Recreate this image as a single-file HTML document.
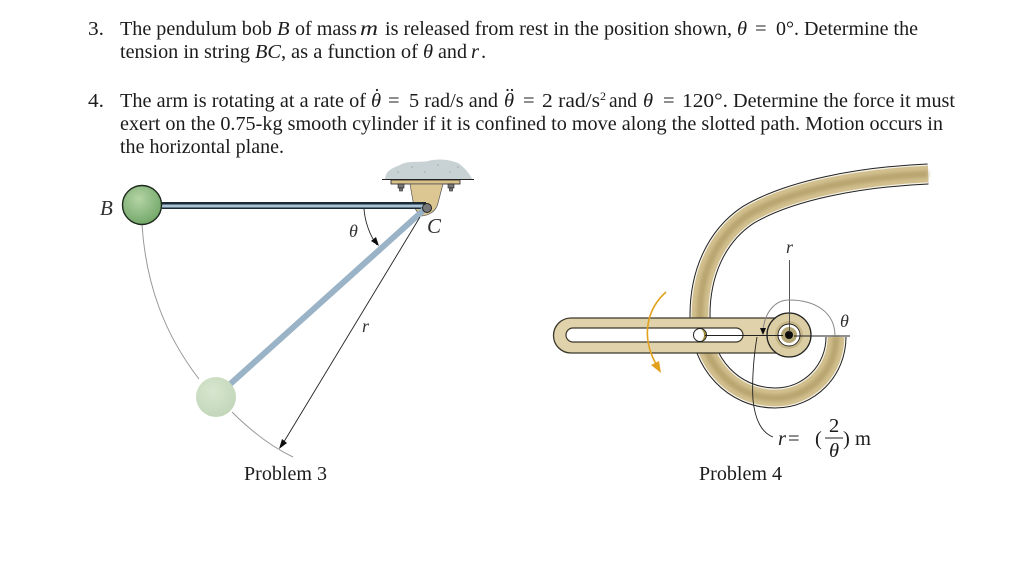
<!DOCTYPE html>
<html>
<head>
<meta charset="utf-8">
<style>
html,body{margin:0;padding:0;background:#fff;width:1024px;height:581px;overflow:hidden}
svg{display:block}
text{font-family:"Liberation Serif",serif;fill:#1a1a1a;font-size:20.5px}
.i{font-style:italic}
</style>
</head>
<body>
<svg width="1024" height="581" viewBox="0 0 1024 581" xmlns="http://www.w3.org/2000/svg">
<defs>
<radialGradient id="g1" cx="0.42" cy="0.35" r="0.7"><stop offset="0" stop-color="#b4d4a6"/><stop offset="1" stop-color="#6fa565"/></radialGradient>
<radialGradient id="g2" cx="0.42" cy="0.35" r="0.7"><stop offset="0" stop-color="#d8e6d0"/><stop offset="1" stop-color="#c0d6b8"/></radialGradient>
<filter id="b" x="-5%" y="-5%" width="110%" height="110%"><feGaussianBlur stdDeviation="0.3"/></filter>
<filter id="s" x="-5%" y="-5%" width="110%" height="110%"><feGaussianBlur stdDeviation="1.8"/></filter>
</defs>

<!-- Text -->
<g filter="url(#b)">
<text x="88" y="35" textLength="16" lengthAdjust="spacingAndGlyphs">3.</text>
<text x="120" y="35" textLength="152" lengthAdjust="spacingAndGlyphs">The pendulum bob</text>
<text x="277" y="35" class="i">B</text>
<text x="295" y="35" textLength="62" lengthAdjust="spacingAndGlyphs">of mass</text>
<text x="360" y="35" class="i" textLength="18" lengthAdjust="spacingAndGlyphs">m</text>
<text x="385" y="35" textLength="347" lengthAdjust="spacingAndGlyphs">is released from rest in the position shown,</text>
<text x="737" y="35" class="i">θ</text>
<text x="755" y="35">=</text>
<text x="776" y="35" textLength="23" lengthAdjust="spacingAndGlyphs">0°.</text>
<text x="804" y="35" textLength="114" lengthAdjust="spacingAndGlyphs">Determine the</text>

<text x="120" y="58" textLength="130" lengthAdjust="spacingAndGlyphs">tension in string</text>
<text x="255" y="58" class="i" textLength="26" lengthAdjust="spacingAndGlyphs">BC</text>
<text x="281" y="58">,</text>
<text x="291" y="58" textLength="127" lengthAdjust="spacingAndGlyphs">as a function of</text>
<text x="423" y="58" class="i">θ</text>
<text x="438" y="58" textLength="29" lengthAdjust="spacingAndGlyphs">and</text>
<text x="471" y="58" class="i">r</text>
<text x="481" y="58">.</text>

<text x="88" y="107" textLength="16" lengthAdjust="spacingAndGlyphs">4.</text>
<text x="120" y="107" textLength="246" lengthAdjust="spacingAndGlyphs">The arm is rotating at a rate of</text>
<text x="371" y="107" class="i">θ</text>
<circle cx="377" cy="90" r="1.1" fill="#1a1a1a"/>
<text x="388" y="107">=</text>
<text x="409" y="107" textLength="89" lengthAdjust="spacingAndGlyphs">5 rad/s and</text>
<text x="504" y="107" class="i">θ</text>
<circle cx="507.5" cy="90" r="1.1" fill="#1a1a1a"/><circle cx="512" cy="90" r="1.1" fill="#1a1a1a"/>
<text x="523" y="107">=</text>
<text x="542" y="107" textLength="58" lengthAdjust="spacingAndGlyphs">2 rad/s</text>
<text x="600" y="100" style="font-size:12px">2</text>
<text x="609" y="107" textLength="28" lengthAdjust="spacingAndGlyphs">and</text>
<text x="643" y="107" class="i">θ</text>
<text x="663" y="107">=</text>
<text x="682" y="107" textLength="46" lengthAdjust="spacingAndGlyphs">120°.</text>
<text x="733" y="107" textLength="222" lengthAdjust="spacingAndGlyphs">Determine the force it must</text>

<text x="120" y="130" textLength="823" lengthAdjust="spacingAndGlyphs">exert on the 0.75-kg smooth cylinder if it is confined to move along the slotted path. Motion occurs in</text>
<text x="120" y="153" textLength="164" lengthAdjust="spacingAndGlyphs">the horizontal plane.</text>

<text x="100" y="215" class="i" style="font-size:21px;fill:#333">B</text>
<text x="427" y="233" class="i" style="font-size:21px;fill:#333">C</text>
<text x="349" y="237" class="i" style="font-size:18px;fill:#333">θ</text>
<text x="362" y="332" class="i" style="font-size:18px;fill:#333">r</text>
<text x="244" y="480" textLength="83" lengthAdjust="spacingAndGlyphs">Problem 3</text>

<text x="786" y="253" class="i" style="font-size:18px;fill:#333">r</text>
<text x="840" y="327" class="i" style="font-size:18px;fill:#333">θ</text>
<text x="778" y="445" class="i">r</text>
<text x="788" y="445">=</text>
<text x="815" y="445">(</text>
<text x="829" y="432">2</text>
<text x="829" y="457" class="i">θ</text>
<text x="843" y="445">)</text>
<text x="855" y="445">m</text>
<text x="699" y="480" textLength="83" lengthAdjust="spacingAndGlyphs">Problem 4</text>
</g>

<!-- Problem 3 -->
<g filter="url(#b)">
<path d="M385,179 C386,170 393,168 400,165 C408,160 420,163 428,161 C440,158 450,160 458,163 C464,167 470,174 472,179 Z" fill="#c8d2d4"/>
<g fill="#aebabb"><circle cx="398" cy="172" r="1"/><circle cx="412" cy="167" r="1"/><circle cx="425" cy="172" r="1"/><circle cx="438" cy="165" r="1"/><circle cx="450" cy="172" r="1"/><circle cx="458" cy="167" r="1"/></g>
<line x1="382" y1="179.5" x2="474" y2="179.5" stroke="#222" stroke-width="1"/>
<rect x="391" y="180" width="69" height="4" fill="#d8c08a" stroke="#222" stroke-width="0.8"/>
<path d="M410,184 L443,184 L438,203 C436,212 428,216 420,216 L414,207 Z" fill="#dcc691" stroke="#555" stroke-width="0.7"/>
<g fill="#777" stroke="#222" stroke-width="0.6"><rect x="398" y="184" width="6" height="4"/><rect x="399.5" y="188" width="3" height="3"/><rect x="448" y="184" width="6" height="4"/><rect x="449.5" y="188" width="3" height="3"/></g>

<path d="M142,225 C146,285 165,335 199,379" fill="none" stroke="#999" stroke-width="1"/>
<path d="M232,412 C250,430 270,446 293,457" fill="none" stroke="#999" stroke-width="1"/>

<line x1="162" y1="205.5" x2="426" y2="205.5" stroke="#1d2a34" stroke-width="7"/>
<line x1="162" y1="206" x2="426" y2="206" stroke="#a8c2d6" stroke-width="3"/>
<line x1="426" y1="208" x2="228" y2="386" stroke="#9ab3c6" stroke-width="6"/>
<circle cx="427" cy="208" r="4.5" fill="#777" stroke="#222" stroke-width="1"/>

<circle cx="142" cy="205" r="19.5" fill="url(#g1)" stroke="#1f2a1f" stroke-width="1.4"/>
<circle cx="216" cy="397" r="20" fill="url(#g2)"/>

<line x1="420" y1="217" x2="282" y2="445" stroke="#222" stroke-width="0.9"/>
<path d="M279,449 L282,439 L287,443 Z" fill="#111"/>
<path d="M364,209 C365,222 370,236 377,245" fill="none" stroke="#222" stroke-width="0.9"/>
<path d="M379,246 L371,241 L376,237 Z" fill="#111"/>
</g>

<!-- Problem 4 -->
<g filter="url(#b)">
<path d="M928,174 C860,177 790,190 748,215 C715,237 700,275 700,315 C700,365 735,398 775,398 C810,398 836,370 836,337" fill="none" stroke="#222" stroke-width="21"/>
<path d="M928,174 C860,177 790,190 748,215 C715,237 700,275 700,315 C700,365 735,398 775,398 C810,398 836,370 836,337" fill="none" stroke="#f5f1e6" stroke-width="19"/>
<path d="M928,174 C860,177 790,190 748,215 C715,237 700,275 700,315 C700,365 735,398 775,398 C810,398 836,370 836,337" fill="none" stroke="#d2c08f" stroke-width="16.5"/>
<path d="M928,174 C860,177 790,190 748,215 C715,237 700,275 700,315 C700,365 735,398 775,398 C810,398 836,370 836,337" fill="none" stroke="#b8a56f" stroke-width="7" filter="url(#s)"/>

<path d="M571,318 L789,318 L789,353 L571,353 A17.5,17.5 0 0 1 571,318 Z" fill="#e0d2aa" stroke="#3a372c" stroke-width="1.3"/>
<rect x="566" y="328" width="177" height="14" rx="7" fill="#fff" stroke="#3a372c" stroke-width="1.2"/>
<circle cx="700" cy="335" r="6.5" fill="#fff" stroke="#222" stroke-width="1"/>
<path d="M700,329 A6,6 0 0 1 700,341 A4,6 0 0 0 700,329 Z" fill="#9a8a30"/>
<circle cx="789" cy="335" r="22" fill="#dccea4" stroke="#222" stroke-width="1.3"/>
<circle cx="789" cy="335" r="14" fill="#c7b788"/>
<circle cx="789" cy="335" r="11" fill="#fff" stroke="#222" stroke-width="0.9"/>
<circle cx="789" cy="335" r="8" fill="#b5a674"/>
<circle cx="789" cy="335" r="4" fill="#111"/>

<line x1="705" y1="335.5" x2="783" y2="335.5" stroke="#222" stroke-width="0.9"/>
<line x1="794" y1="336" x2="850" y2="336" stroke="#222" stroke-width="1"/>
<line x1="789.5" y1="260" x2="789.5" y2="332" stroke="#444" stroke-width="0.9"/>
<path d="M835,336 C835,312 815,300 789,300 C775,300 765,312 763,330" fill="none" stroke="#888" stroke-width="1"/>
<path d="M763,335 L760,328 L766,328 Z" fill="#111"/>
<path d="M757,337 C753,360 752,385 753,400 C755,420 762,433 773,437" fill="none" stroke="#222" stroke-width="0.9"/>
<path d="M666,292 C648,308 640,335 656,364" fill="none" stroke="#e2a11f" stroke-width="1.6"/>
<path d="M661,373 L651,365 L659,361 Z" fill="#e2a11f"/>
<line x1="825" y1="438" x2="843" y2="438" stroke="#222" stroke-width="1"/>
</g>
</svg>
</body>
</html>
